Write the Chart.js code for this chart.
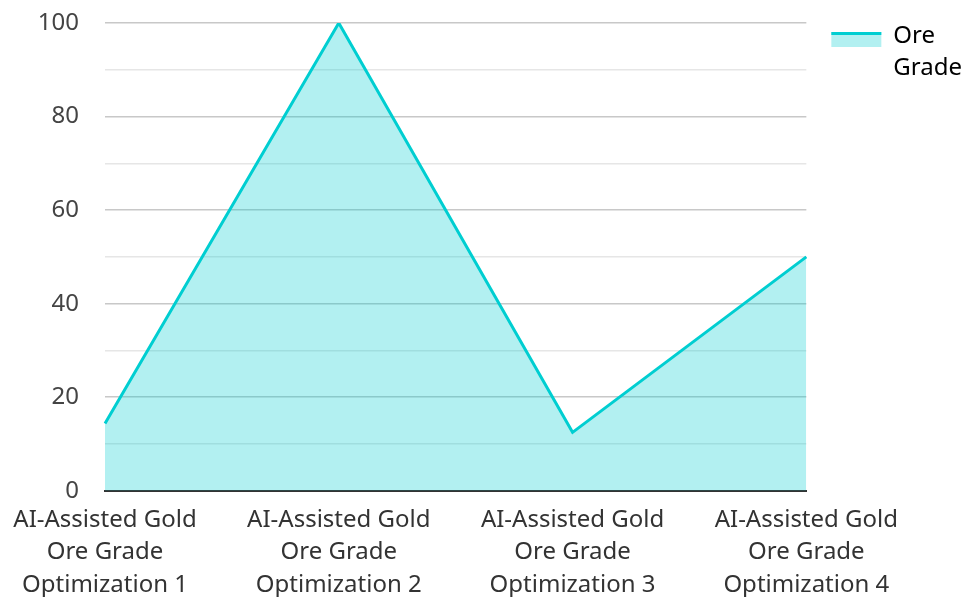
<!DOCTYPE html>
<html>
<head>
<meta charset="utf-8">
<script src="https://cdn.jsdelivr.net/npm/chart.js@4"></script>
<style>
html,body{margin:0;padding:0;background:#fff;}
#wrap{width:962px;height:597px;}
</style>
</head>
<body>
<div id="wrap"><canvas id="c" width="962" height="597"></canvas></div>
<script>
const categories = [
  ['AI-Assisted Gold','Ore Grade','Optimization 1'],
  ['AI-Assisted Gold','Ore Grade','Optimization 2'],
  ['AI-Assisted Gold','Ore Grade','Optimization 3'],
  ['AI-Assisted Gold','Ore Grade','Optimization 4']
];
const seriesName = ['Ore','Grade'];
const oreGrade = [14.4, 100, 12.5, 50];

const LINE = '#00CED1';
const FILL = 'rgba(0,206,209,0.3)';
const FONT = "'Noto Sans', 'Open Sans', sans-serif";

const legendBox = {
  id: 'legendBox',
  afterDraw(chart) {
    const lg = chart.legend;
    if (!lg || !lg.legendHitBoxes || !lg.legendHitBoxes.length) return;
    const hb = lg.legendHitBoxes[0];
    const ctx = chart.ctx;
    ctx.save();
    ctx.fillStyle = FILL;
    ctx.fillRect(hb.left, hb.top + 8, 50, 15);
    ctx.fillStyle = LINE;
    ctx.fillRect(hb.left, hb.top + 8, 50, 3);
    ctx.restore();
  }
};

new Chart(document.getElementById('c'), {
  type: 'line',
  data: {
    labels: categories,
    datasets: [{
      label: 'Ore Grade',
      data: oreGrade,
      borderColor: LINE,
      backgroundColor: FILL,
      borderWidth: 3,
      fill: 'origin',
      pointRadius: 0,
      tension: 0
    }]
  },
  options: {
    responsive: false,
    animation: false,
    layout: { padding: { top: 14, right: -10, left: 0, bottom: -17 } },
    plugins: {
      tooltip: { enabled: false },
      legend: {
        position: 'right',
        align: 'start',
        labels: {
          boxWidth: 50,
          boxHeight: 15,
          padding: 10,
          color: '#333',
          font: { family: FONT, size: 24, lineHeight: 1.35 },
          generateLabels(chart) {
            return [{
              text: seriesName,
              fillStyle: 'rgba(0,0,0,0)',
              strokeStyle: 'rgba(0,0,0,0)',
              lineWidth: 0,
              datasetIndex: 0,
              hidden: false
            }];
          }
        }
      }
    },
    scales: {
      x: {
        offset: false,
        afterFit: (s) => { s.paddingLeft = 0; s.paddingRight = 0; },
        grid: { display: false, drawTicks: false },
        border: { display: true, color: '#333', width: 2 },
        ticks: {
          color: '#333',
          font: { family: FONT, size: 24, lineHeight: 1.35 },
          maxRotation: 0,
          padding: 13
        }
      },
      y: {
        min: 0,
        max: 100,
        afterFit: (s) => { s.width = 105; s.paddingTop = 23; s.paddingBottom = 14; },
        grid: {
          drawTicks: false,
          lineWidth: 1.5,
          color: (c) => (c.tick && c.tick.value % 20 === 0) ? '#c8c8c8' : '#e6e6e6'
        },
        border: { display: false },
        ticks: {
          stepSize: 10,
          padding: 26,
          color: '#444',
          font: { family: FONT, size: 24 },
          callback: (v) => (v % 20 === 0 ? String(v) : '')
        }
      },
      spacer: {
        type: 'linear',
        position: 'right',
        display: true,
        afterFit: (s) => { s.width = 15; },
        grid: { display: false, drawTicks: false },
        border: { display: false },
        ticks: { display: false }
      }
    }
  },
  plugins: [legendBox]
});
</script>
</body>
</html>
